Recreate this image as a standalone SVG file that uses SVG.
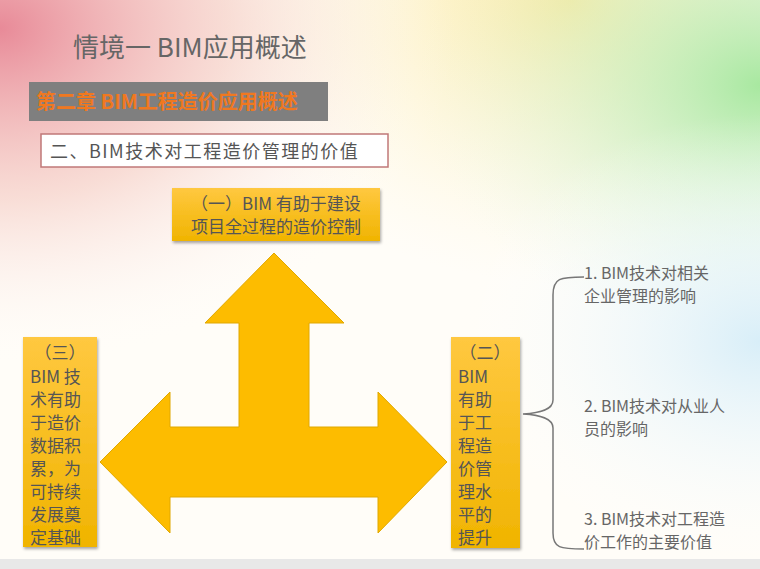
<svg xmlns="http://www.w3.org/2000/svg" width="760" height="569" viewBox="0 0 760 569">
<defs>
<radialGradient id="pk" cx="0" cy="0.05" r="0.6"><stop offset="0" stop-color="#e88a98"/><stop offset="0.5" stop-color="#f4c8c0" stop-opacity="0.6"/><stop offset="1" stop-color="#fff" stop-opacity="0"/></radialGradient>
<radialGradient id="yl" cx="0.75" cy="0" r="0.5"><stop offset="0" stop-color="#fbe89a"/><stop offset="1" stop-color="#fff8e0" stop-opacity="0"/></radialGradient>
<radialGradient id="gr" cx="1" cy="0.15" r="0.45"><stop offset="0" stop-color="#a8e8a0"/><stop offset="1" stop-color="#e8f8f0" stop-opacity="0"/></radialGradient>
<radialGradient id="bl" cx="1" cy="0.6" r="0.4"><stop offset="0" stop-color="#d8eef8"/><stop offset="1" stop-color="#fff" stop-opacity="0"/></radialGradient>
<linearGradient id="box" x1="0" y1="0" x2="0" y2="1"><stop offset="0" stop-color="#ffc840"/><stop offset="1" stop-color="#f0b400"/></linearGradient>
<filter id="sh" x="-10%" y="-10%" width="130%" height="130%"><feDropShadow dx="1" dy="2" stdDeviation="1.5" flood-opacity="0.35"/></filter>
<style>
text{font-family:"Noto Sans CJK SC","Liberation Sans",sans-serif}
.ybox{fill:url(#box);filter:url(#sh)}
.yt{font-size:17px;fill:#555}
.rt{font-size:16px;fill:#666}
</style>
</defs>
<rect width="760" height="569" fill="#fffdf8"/>
<rect width="760" height="569" fill="url(#yl)"/>
<rect width="760" height="569" fill="url(#gr)"/>
<rect width="760" height="569" fill="url(#bl)"/>
<rect width="760" height="569" fill="url(#pk)"/>
<rect x="0" y="559" width="760" height="10" fill="#e8e8e8"/>
<text x="73" y="57" font-size="26" fill="#666">情境一  BIM应用概述</text>
<g id="chapter"><rect x="29" y="82" width="299" height="39" fill="#7f7f7f"/><text x="36" y="109" font-size="20" font-weight="bold" fill="#f07820">第二章 BIM工程造价应用概述</text></g>
<g id="section"><rect x="41" y="134" width="347" height="33" fill="#fff" stroke="#c07878" stroke-width="1.5"/><text x="50" y="158" font-size="18" fill="#555" letter-spacing="1.5">二、BIM技术对工程造价管理的价值</text></g>
<g id="arrow"><path d="M274,253 L344,323 L309,323 L309,427 L378,427 L378,392 L447,462 L378,533 L378,497 L170,497 L170,533 L100,462 L170,392 L170,427 L239,427 L239,323 L205,323 Z" fill="#fdbc00" stroke="#e0a800" stroke-width="1"/></g>
<g id="n1"><rect class="ybox" x="172" y="188" width="208" height="53"/><text class="yt" x="276" y="210" text-anchor="middle">（一）BIM 有助于建设</text><text class="yt" x="276" y="233" text-anchor="middle">项目全过程的造价控制</text></g>
<g id="n3"><rect class="ybox" x="23" y="337" width="74" height="210"/>
<text class="yt" x="60" y="359" text-anchor="middle">（三）</text>
<text class="yt" x="30" y="383">BIM 技</text><text class="yt" x="30" y="406">术有助</text><text class="yt" x="30" y="429">于造价</text><text class="yt" x="30" y="452">数据积</text><text class="yt" x="30" y="475">累，为</text><text class="yt" x="30" y="498">可持续</text><text class="yt" x="30" y="521">发展奠</text><text class="yt" x="30" y="544">定基础</text></g>
<g id="n2"><rect class="ybox" x="451" y="337" width="69" height="211"/>
<text class="yt" x="485" y="359" text-anchor="middle">（二）</text>
<text class="yt" x="458" y="383">BIM</text><text class="yt" x="458" y="406">有助</text><text class="yt" x="458" y="429">于工</text><text class="yt" x="458" y="452">程造</text><text class="yt" x="458" y="475">价管</text><text class="yt" x="458" y="498">理水</text><text class="yt" x="458" y="521">平的</text><text class="yt" x="458" y="544">提升</text></g>
<g id="connectors"><path d="M584,277 C560,277 553,278 553,295 L553,400 C553,410 540,413 523,414 C540,415 553,418 553,428 L553,533 C553,548 560,549 584,549" fill="none" stroke="#777" stroke-width="1.5"/></g>
<g id="b1"><text class="rt" x="584" y="279">1. BIM技术对相关</text><text class="rt" x="584" y="302">企业管理的影响</text></g>
<g id="b2"><text class="rt" x="584" y="412">2. BIM技术对从业人</text><text class="rt" x="584" y="435">员的影响</text></g>
<g id="b3"><text class="rt" x="584" y="525">3. BIM技术对工程造</text><text class="rt" x="584" y="548">价工作的主要价值</text></g>
</svg>
